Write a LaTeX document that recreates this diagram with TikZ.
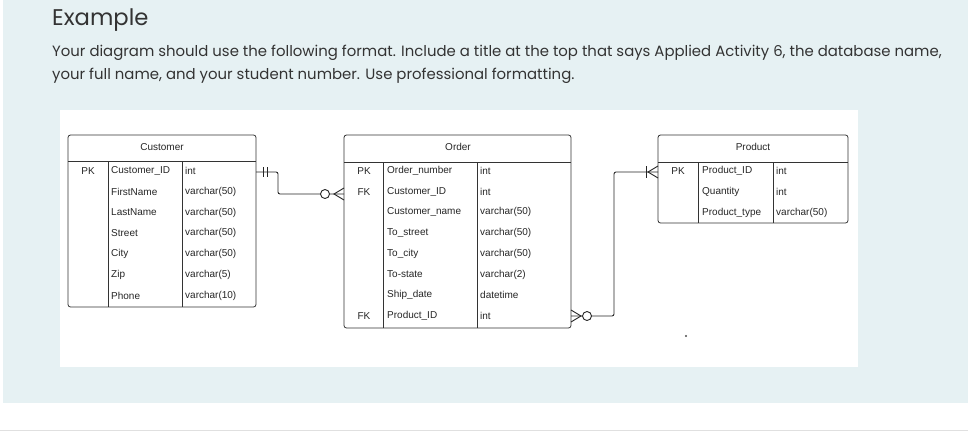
\documentclass[tikz,border=0pt]{standalone}
\usepackage{fontspec}
\setmainfont{Liberation Sans}
\newfontfamily\popf{Poppins}
\definecolor{panel}{HTML}{E6F1F3}
\definecolor{ttl}{HTML}{333333}
\begin{document}
\begin{tikzpicture}[x=1pt,y=-1pt,
  tbl/.style={draw=black!80,line width=0.8pt,rounded corners=2.5pt},
  sep/.style={draw=black!80,line width=0.8pt},
  cell/.style={anchor=west,inner sep=0pt,font=\fontsize{10}{12}\selectfont,text=black!85},
  hdr/.style={inner sep=0pt,font=\fontsize{10}{12}\selectfont,text=black!85},
  conn/.style={draw=black!85,line width=0.9pt}]
\useasboundingbox (0,0) rectangle (968,432);
\fill[panel] (3,0) rectangle (968,403);
\draw[black!12] (0,430) -- (968,430);
\fill[white] (60,110) rectangle (858,367);
\node[anchor=west,inner sep=0pt,font=\popf\fontsize{22.7}{26}\selectfont,text=ttl] (title) at (52,20) {Example};
\node[anchor=west,inner sep=0pt,font=\popf\fontsize{14.9}{18}\selectfont,text=ttl] (l1) at (52,53) {Your diagram should use the following format. Include a title at the top that says Applied Activity 6, the database name,};
\node[anchor=west,inner sep=0pt,font=\popf\fontsize{14.9}{18}\selectfont,text=ttl] (l2) at (52,76) {your full name, and your student number. Use professional formatting.};
% Customer
\draw[tbl] (68,135) rectangle (256,307);
\draw[sep] (68,161) -- (256,161) (108,161) -- (108,307) (182,161) -- (182,307);
\node[hdr] (ch) at (162,147) {Customer};
\node[hdr] (cpk) at (88,171) {PK};
\foreach \n/\a/\b [count=\i from 0] in {c0/Customer\_ID/int,c1/FirstName/varchar(50),c2/LastName/varchar(50),c3/Street/varchar(50),c4/City/varchar(50),c5/Zip/varchar(5),c6/Phone/varchar(10)}{
  \node[cell] (\n a) at (111,171+20.8*\i) {\a};
  \node[cell] (\n b) at (185,171+20.8*\i) {\b};}
% Order
\draw[tbl] (344,135) rectangle (571,328);
\draw[sep] (344,162) -- (571,162) (383,162) -- (383,328) (477,162) -- (477,328);
\node[hdr] (oh) at (458,147) {Order};
\node[hdr] (opk) at (364,171) {PK};
\node[hdr] (ofk) at (364,192) {FK};
\node[hdr] (ofk2) at (364,316) {FK};
\foreach \n/\a/\b [count=\i from 0] in {o0/Order\_number/int,o1/Customer\_ID/int,o2/Customer\_name/varchar(50),o3/To\_street/varchar(50),o4/To\_city/varchar(50),o5/To-state/varchar(2),o6/Ship\_date/datetime,o7/Product\_ID/int}{
  \node[cell] (\n a) at (387,171+20.7*\i) {\a};
  \node[cell] (\n b) at (480,171+20.7*\i) {\b};}
% Product
\draw[tbl] (658,135) rectangle (848,223);
\draw[sep] (658,162) -- (848,162) (698,162) -- (698,223) (773,162) -- (773,223);
\node[hdr] (ph) at (753,147) {Product};
\node[hdr] (ppk) at (678,171) {PK};
\foreach \n/\a/\b [count=\i from 0] in {p0/Product\_ID/int,p1/Quantity/int,p2/Product\_type/varchar(50)}{
  \node[cell] (\n a) at (702,171+20.8*\i) {\a};
  \node[cell] (\n b) at (776,171+20.8*\i) {\b};}
% connector Customer - Order
\coordinate (cs) at (256,172);
\coordinate (oe) at (344,194);
\draw[conn,rounded corners=2pt] (cs) -- (278,172) -- (278,194) -- (oe);
\draw[conn] (263,167) -- (263,177) (267,167) -- (267,177);
\draw[conn,fill=white] (325,194) circle (4.5);
\draw[conn] (344,188) -- (334,194) -- (344,200);
% connector Order - Product
\coordinate (os) at (571,316);
\coordinate (pe) at (658,172);
\draw[conn,rounded corners=2pt] (os) -- (614,316) -- (614,172) -- (pe);
\draw[conn,fill=white] (587,316) circle (4.5);
\draw[conn] (571,310) -- (581,316) -- (571,322);
\draw[conn] (646,166) -- (646,178);
\draw[conn] (658,166) -- (648,172) -- (658,178);
\fill[black!70] (686,336) circle (1.2);
\end{tikzpicture}
\end{document}
